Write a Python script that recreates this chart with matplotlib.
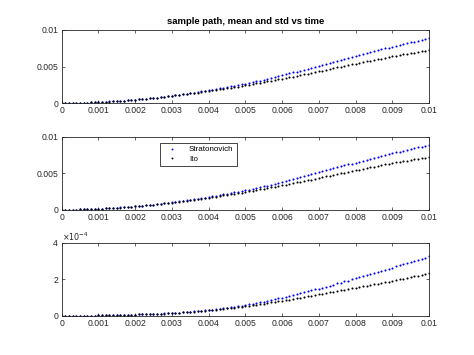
import numpy as np
import matplotlib
matplotlib.use("Agg")
import matplotlib.pyplot as plt

plt.rcParams['font.family'] = ['Liberation Sans', 'DejaVu Sans']

# time grid, 101 samples (step 1e-4)
t = np.linspace(0, 0.01, 101)

# sample path (units of 1e-4)
path_strat = [
    0.00, 0.01, 0.05, 0.12, 0.21, 0.33, 0.47, 0.64, 0.83, 1.05, 1.30,
    1.55, 1.82, 2.11, 2.41, 2.72, 3.05, 3.39, 3.75, 4.12, 4.50,
    4.94, 5.40, 5.89, 6.40, 6.94, 7.50, 8.09, 8.70, 9.34, 10.00,
    10.67, 11.36, 12.07, 12.79, 13.53, 14.29, 15.07, 15.86, 16.67, 17.50,
    18.32, 19.16, 20.01, 20.88, 21.77, 22.68, 23.61, 24.55, 25.51, 26.50,
    27.54, 28.60, 29.69, 30.80, 31.94, 33.10, 34.29, 35.50, 36.74, 38.00,
    39.27, 40.55, 41.84, 43.14, 44.45, 45.78, 47.12, 48.47, 49.83, 51.20,
    52.54, 53.88, 55.22, 56.56, 57.90, 59.24, 60.58, 61.92, 63.26, 64.60,
    65.90, 67.19, 68.47, 69.74, 71.00, 72.26, 73.51, 74.75, 75.98, 77.20,
    78.38, 79.55, 80.71, 81.86, 83.00, 84.12, 85.23, 86.33, 87.42, 88.50]
path_ito = [
    0.00, 0.01, 0.05, 0.12, 0.21, 0.33, 0.47, 0.64, 0.83, 1.05, 1.30,
    1.54, 1.80, 2.08, 2.37, 2.67, 2.99, 3.32, 3.67, 4.03, 4.40,
    4.84, 5.30, 5.78, 6.29, 6.82, 7.37, 7.94, 8.54, 9.16, 9.80,
    10.43, 11.07, 11.72, 12.38, 13.05, 13.72, 14.40, 15.09, 15.79, 16.50,
    17.22, 17.95, 18.69, 19.45, 20.22, 20.99, 21.77, 22.57, 23.38, 24.20,
    25.05, 25.91, 26.79, 27.68, 28.59, 29.51, 30.44, 31.38, 32.33, 33.30,
    34.28, 35.27, 36.27, 37.27, 38.28, 39.29, 40.31, 41.33, 42.36, 43.40,
    44.45, 45.50, 46.55, 47.60, 48.65, 49.70, 50.75, 51.80, 52.85, 53.90,
    54.94, 55.97, 56.99, 58.00, 59.00, 59.99, 60.96, 61.92, 62.87, 63.80,
    64.70, 65.59, 66.46, 67.32, 68.17, 69.00, 69.82, 70.62, 71.41, 72.20]

# mean (units of 1e-4) - same as the path at this resolution
mean_strat = list(path_strat)
mean_ito = list(path_ito)

# std (units of 1e-4)
std_strat = [
    0.00, 0.00, 0.00, 0.00, 0.01, 0.01, 0.01, 0.02, 0.02, 0.02, 0.03,
    0.03, 0.04, 0.04, 0.04, 0.05, 0.05, 0.06, 0.06, 0.07, 0.07,
    0.08, 0.08, 0.09, 0.10, 0.11, 0.12, 0.13, 0.14, 0.15, 0.16,
    0.17, 0.18, 0.20, 0.21, 0.23, 0.25, 0.27, 0.28, 0.30, 0.32,
    0.34, 0.37, 0.39, 0.42, 0.45, 0.48, 0.50, 0.53, 0.57, 0.60,
    0.64, 0.67, 0.71, 0.75, 0.79, 0.83, 0.87, 0.91, 0.96, 1.00,
    1.05, 1.10, 1.14, 1.19, 1.24, 1.29, 1.35, 1.40, 1.45, 1.50,
    1.55, 1.61, 1.66, 1.72, 1.78, 1.83, 1.89, 1.94, 2.00, 2.06,
    2.12, 2.18, 2.24, 2.29, 2.35, 2.41, 2.47, 2.53, 2.59, 2.65,
    2.71, 2.77, 2.83, 2.89, 2.95, 3.02, 3.08, 3.14, 3.20, 3.26]
std_ito = [
    0.00, 0.00, 0.00, 0.00, 0.01, 0.01, 0.01, 0.02, 0.02, 0.02, 0.03,
    0.03, 0.04, 0.04, 0.04, 0.05, 0.05, 0.06, 0.06, 0.07, 0.07,
    0.08, 0.08, 0.09, 0.10, 0.11, 0.11, 0.12, 0.13, 0.14, 0.15,
    0.16, 0.18, 0.19, 0.21, 0.22, 0.24, 0.25, 0.27, 0.28, 0.30,
    0.32, 0.34, 0.36, 0.39, 0.41, 0.43, 0.46, 0.48, 0.51, 0.53,
    0.56, 0.59, 0.62, 0.65, 0.68, 0.71, 0.74, 0.77, 0.80, 0.83,
    0.86, 0.90, 0.93, 0.97, 1.00, 1.04, 1.07, 1.11, 1.14, 1.18,
    1.22, 1.25, 1.29, 1.33, 1.37, 1.40, 1.44, 1.48, 1.51, 1.55,
    1.59, 1.62, 1.66, 1.70, 1.74, 1.77, 1.81, 1.85, 1.88, 1.92,
    1.96, 2.00, 2.04, 2.08, 2.12, 2.17, 2.21, 2.25, 2.29, 2.33]

xticks = [0, 0.001, 0.002, 0.003, 0.004, 0.005, 0.006, 0.007, 0.008, 0.009, 0.01]
xticklabels = ['0', '0.001', '0.002', '0.003', '0.004', '0.005', '0.006',
               '0.007', '0.008', '0.009', '0.01']

fig = plt.figure(figsize=(4.74, 3.55), dpi=100)
tc = '#262626'


def style(ax):
    ax.set_xlim(0, 0.01)
    ax.set_xticks(xticks)
    ax.set_xticklabels(xticklabels)
    ax.tick_params(direction='in', length=2.5, width=0.5, labelsize=6.2,
                   colors=tc, top=True, right=True, pad=2.5)
    for s in ax.spines.values():
        s.set_linewidth(0.6)
        s.set_color(tc)


ax1 = fig.add_axes([0.13, 0.7098, 0.775, 0.2057])
ax2 = fig.add_axes([0.13, 0.4093, 0.775, 0.2057])
ax3 = fig.add_axes([0.13, 0.1100, 0.775, 0.2057])

ms = 3.0
ax1.plot(t, np.array(path_strat) * 1e-4, '.', color='blue', ms=ms, mew=0)
ax1.plot(t, np.array(path_ito) * 1e-4, '.', color='black', ms=ms, mew=0)
ax1.set_ylim(0, 0.01)
ax1.set_yticks([0, 0.005, 0.01])
ax1.set_yticklabels(['0', '0.005', '0.01'])
ax1.set_title('sample path, mean and std vs time', fontsize=6.8,
              fontweight='bold', pad=4, color='black')

ax2.plot(t, np.array(mean_strat) * 1e-4, '.', color='blue', ms=ms, mew=0,
         label='Stratonovich')
ax2.plot(t, np.array(mean_ito) * 1e-4, '.', color='black', ms=ms, mew=0,
         label='Ito')
ax2.set_ylim(0, 0.01)
ax2.set_yticks([0, 0.005, 0.01])
ax2.set_yticklabels(['0', '0.005', '0.01'])
leg = ax2.legend(loc='upper left', bbox_to_anchor=(160 / 474, 1 - 142.5 / 355),
                 bbox_transform=fig.transFigure, fontsize=5.8, frameon=True,
                 fancybox=False, borderpad=0.4, handlelength=2.2,
                 handletextpad=1.0, labelspacing=0.25, borderaxespad=0,
                 markerscale=0.9)
leg.get_frame().set_edgecolor(tc)
leg.get_frame().set_linewidth(0.6)
leg.get_frame().set_alpha(1)

ax3.plot(t, std_strat, '.', color='blue', ms=ms, mew=0)
ax3.plot(t, std_ito, '.', color='black', ms=ms, mew=0)
ax3.set_ylim(0, 4)
ax3.set_yticks([0, 2, 4])
ax3.set_yticklabels(['0', '2', '4'])
ax3.text(0.0, 1.0, r'$\times10^{-4}$', transform=ax3.transAxes,
         fontsize=5.8, color=tc, ha='left', va='bottom')

for ax in (ax1, ax2, ax3):
    style(ax)

fig.savefig('out.png', dpi=100)
